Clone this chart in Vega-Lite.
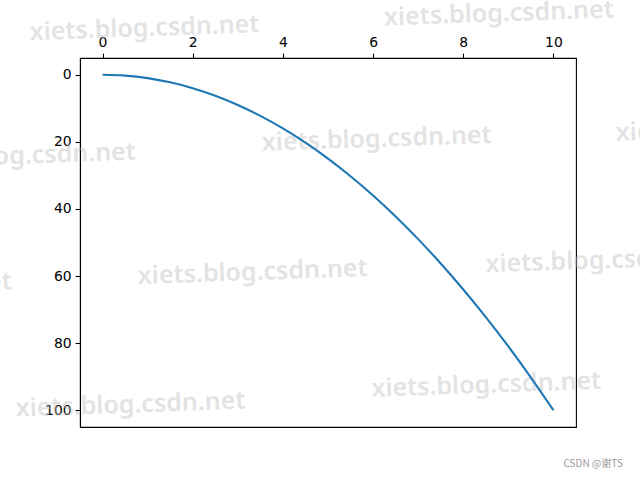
{
  "$schema": "https://vega.github.io/schema/vega-lite/v6.json",
  "autosize": {"type": "none"},
  "padding": {"left": 80, "top": 58, "right": 64, "bottom": 53},
  "width": 496,
  "height": 369,
  "background": "white",
  "datasets": {
    "curve": [
      {"x": 0, "y": 0}, {"x": 0.5, "y": 0.25}, {"x": 1, "y": 1}, {"x": 1.5, "y": 2.25},
      {"x": 2, "y": 4}, {"x": 2.5, "y": 6.25}, {"x": 3, "y": 9}, {"x": 3.5, "y": 12.25},
      {"x": 4, "y": 16}, {"x": 4.5, "y": 20.25}, {"x": 5, "y": 25}, {"x": 5.5, "y": 30.25},
      {"x": 6, "y": 36}, {"x": 6.5, "y": 42.25}, {"x": 7, "y": 49}, {"x": 7.5, "y": 56.25},
      {"x": 8, "y": 64}, {"x": 8.5, "y": 72.25}, {"x": 9, "y": 81}, {"x": 9.5, "y": 90.25},
      {"x": 10, "y": 100}
    ],
    "marks": [
      {"x": 0.93, "y": -13.9, "label": "xiets.blog.csdn.net"},
      {"x": 8.79, "y": -18.3, "label": "xiets.blog.csdn.net"},
      {"x": -1.81, "y": 24.1, "label": "xiets.blog.csdn.net"},
      {"x": 6.08, "y": 19.1, "label": "xiets.blog.csdn.net"},
      {"x": 13.93, "y": 16.1, "label": "xiets.blog.csdn.net"},
      {"x": 3.33, "y": 58.8, "label": "xiets.blog.csdn.net"},
      {"x": 11.04, "y": 55.3, "label": "xiets.blog.csdn.net"},
      {"x": -4.56, "y": 62.7, "label": "xiets.blog.csdn.net"},
      {"x": 8.51, "y": 92.4, "label": "xiets.blog.csdn.net"},
      {"x": 0.62, "y": 98.3, "label": "xiets.blog.csdn.net"}
    ],
    "credit": [
      {"x": 10.88, "y": 116.1, "label": "CSDN @谢TS"}
    ]
  },
  "layer": [
    {
      "data": {"name": "marks"},
      "mark": {"type": "text", "font": "Noto Sans", "fontWeight": 600, "fontSize": 25, "color": "#bdbdbd", "opacity": 0.42, "angle": -2, "align": "center", "baseline": "middle"},
      "encoding": {
        "x": {"field": "x", "type": "quantitative"},
        "y": {"field": "y", "type": "quantitative"},
        "text": {"field": "label"}
      }
    },
    {
      "data": {"name": "credit"},
      "mark": {"type": "text", "font": "Noto Sans CJK SC", "fontSize": 10, "color": "#999999", "align": "center", "baseline": "middle"},
      "encoding": {
        "x": {"field": "x", "type": "quantitative"},
        "y": {"field": "y", "type": "quantitative"},
        "text": {"field": "label"}
      }
    },
    {
      "data": {"name": "curve"},
      "mark": {"type": "line", "color": "#1f77b4", "strokeWidth": 2.1, "interpolate": "monotone"},
      "encoding": {
        "x": {
          "field": "x",
          "type": "quantitative",
          "title": null,
          "scale": {"domain": [-0.5, 10.5], "nice": false, "zero": false},
          "axis": {"orient": "top", "values": [0, 2, 4, 6, 8, 10]}
        },
        "y": {
          "field": "y",
          "type": "quantitative",
          "title": null,
          "scale": {"domain": [-5, 105], "nice": false, "zero": false, "reverse": true},
          "axis": {"values": [0, 20, 40, 60, 80, 100]}
        }
      }
    }
  ],
  "config": {
    "view": {"stroke": "black", "strokeWidth": 1.1},
    "axis": {
      "grid": false,
      "domainColor": "black",
      "domainWidth": 1.1,
      "tickColor": "black",
      "tickWidth": 1.1,
      "tickSize": 4.9,
      "labelPadding": 4,
      "labelFont": "DejaVu Sans",
      "labelFontSize": 13.9,
      "labelColor": "black"
    }
  }
}
